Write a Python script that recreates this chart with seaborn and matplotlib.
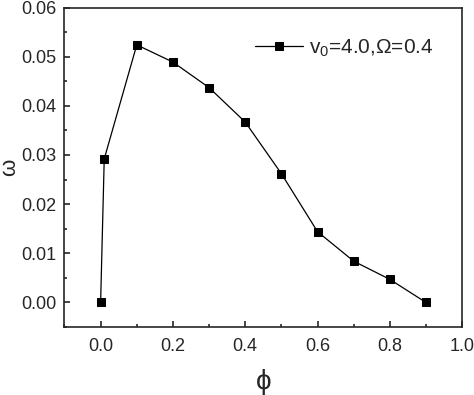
import numpy as np
import pandas as pd
import seaborn as sns
import matplotlib.pyplot as plt
from matplotlib.ticker import MultipleLocator

# data
phi = [0.0, 0.01, 0.1, 0.2, 0.3, 0.4, 0.5, 0.6, 0.7, 0.8, 0.9]
omega = [0.0, 0.0292, 0.0524, 0.0489, 0.0437, 0.0367, 0.0262, 0.0144, 0.0084, 0.0047, 0.0]
series_label = r"v$_0$=4.0,Ω=0.4"

df = pd.DataFrame({"phi": phi, "omega": omega})

sns.set_style("ticks")
plt.rcParams['font.family'] = ['Liberation Sans', 'DejaVu Sans']
plt.rcParams['mathtext.fontset'] = 'custom'
plt.rcParams['mathtext.rm'] = 'Liberation Sans'
plt.rcParams['mathtext.it'] = 'Liberation Sans'

fig = plt.figure(figsize=(4.74, 3.95), dpi=100)
ax = fig.add_axes([0.136, 0.172, 0.839, 0.809])

sns.lineplot(data=df, x="phi", y="omega", marker="s", color="black",
             linewidth=0.9, markersize=6, markeredgecolor="black",
             label=series_label, ax=ax)

ax.set_xlim(-0.1, 1.0)
ax.set_ylim(-0.005, 0.06)
ax.xaxis.set_major_locator(MultipleLocator(0.2))
ax.xaxis.set_minor_locator(MultipleLocator(0.1))
ax.yaxis.set_major_locator(MultipleLocator(0.01))
ax.yaxis.set_minor_locator(MultipleLocator(0.005))
ax.xaxis.set_major_formatter(plt.FormatStrFormatter('%.1f'))
ax.yaxis.set_major_formatter(plt.FormatStrFormatter('%.2f'))

ax.tick_params(which='both', direction='in', labelsize=13, width=1.2)
ax.tick_params(which='major', length=4.5)
ax.tick_params(which='minor', length=2.5)
ax.tick_params(axis='x', pad=8)
ax.tick_params(axis='y', pad=6)
for s in ax.spines.values():
    s.set_linewidth(1.2)

ax.set_xlabel("ϕ", fontsize=20)
ax.set_ylabel("ω", fontsize=16)
ax.xaxis.set_label_coords(0.5, -0.13)
ax.yaxis.set_label_coords(-0.112, 0.5)

leg = ax.legend(loc='upper right', frameon=False, fontsize=15,
                bbox_to_anchor=(0.975, 0.965), handlelength=2.3, handletextpad=0.3)

fig.savefig("out.png", dpi=100)
